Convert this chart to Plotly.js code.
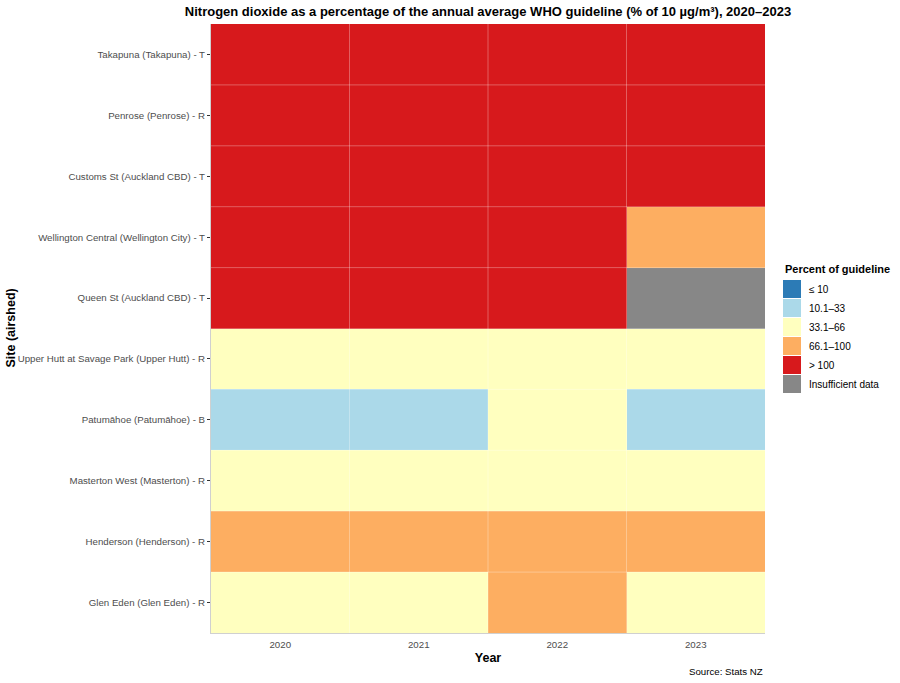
<!DOCTYPE html>
<html>
<head>
<meta charset="utf-8">
<script src="https://cdn.plot.ly/plotly-3.0.1.min.js"></script>
<style>
  html, body { margin: 0; padding: 0; background: #ffffff; }
  #chart { width: 900px; height: 683px; }
</style>
</head>
<body>
<div id="chart"></div>
<script>
// Monitoring sites, listed top to bottom
const sites = [
  "Takapuna (Takapuna) - T",
  "Penrose (Penrose) - R",
  "Customs St (Auckland CBD) - T",
  "Wellington Central (Wellington City) - T",
  "Queen St (Auckland CBD) - T",
  "Upper Hutt at Savage Park (Upper Hutt) - R",
  "Patumāhoe (Patumāhoe) - B",
  "Masterton West (Masterton) - R",
  "Henderson (Henderson) - R",
  "Glen Eden (Glen Eden) - R"
];

const years = ["2020", "2021", "2022", "2023"];

// Guideline bands and their fill colours
const bands = ["≤ 10", "10.1–33", "33.1–66", "66.1–100", "> 100", "Insufficient data"];
const bandColors = ["#2C7BB6", "#ABD9E9", "#FFFFBF", "#FDAE61", "#D7191C", "#878787"];

// Band reached by each site, one list per year (same order as sites)
const band2020 = ["> 100", "> 100", "> 100", "> 100", "> 100", "33.1–66", "10.1–33", "33.1–66", "66.1–100", "33.1–66"];
const band2021 = ["> 100", "> 100", "> 100", "> 100", "> 100", "33.1–66", "10.1–33", "33.1–66", "66.1–100", "33.1–66"];
const band2022 = ["> 100", "> 100", "> 100", "> 100", "> 100", "33.1–66", "33.1–66", "33.1–66", "66.1–100", "66.1–100"];
const band2023 = ["> 100", "> 100", "> 100", "66.1–100", "Insufficient data", "33.1–66", "10.1–33", "33.1–66", "66.1–100", "33.1–66"];

const byYear = [band2020, band2021, band2022, band2023];

// z matrix: rows = sites, columns = years, value = band index
const z = sites.map((s, i) => byYear.map(col => bands.indexOf(col[i])));
const text = sites.map((s, i) => byYear.map(col => col[i]));

// Stepped colour scale so every band index gets one flat colour
const n = bands.length;
const colorscale = [];
bandColors.forEach((c, k) => {
  colorscale.push([k / n, c]);
  colorscale.push([(k + 1) / n, c]);
});

const heat = {
  type: "heatmap",
  x: years,
  y: sites,
  z: z,
  text: text,
  hovertemplate: "%{y}<br>%{x}: %{text}<extra></extra>",
  colorscale: colorscale,
  zmin: -0.5,
  zmax: n - 0.5,
  showscale: false
};

const FONT = "Liberation Sans, Arial, sans-serif";
const plotW = 554, plotH = 609;

// Faint white tile borders drawn on top of the cells
const shapes = [];
for (let j = 1; j < years.length; j++) {
  shapes.push({
    type: "line", layer: "above", xref: "x", yref: "paper",
    x0: j - 0.5, x1: j - 0.5, y0: 0, y1: 1,
    line: { color: "rgba(255,255,255,0.3)", width: 1 }
  });
}
for (let i = 1; i < sites.length; i++) {
  shapes.push({
    type: "line", layer: "above", xref: "paper", yref: "y",
    x0: 0, x1: 1, y0: i - 0.5, y1: i - 0.5,
    line: { color: "rgba(255,255,255,0.3)", width: 1 }
  });
}

// Hand-built legend to the right of the panel
const annotations = [];
const legX = 1.0325;          // paper x of key left edge
const keyW = 18, keyH = 19;   // px
const legTopPx = 280 - 24;    // px below panel top where the keys begin
annotations.push({
  xref: "paper", yref: "paper", x: legX, y: 1 - (legTopPx - 11) / plotH,
  xanchor: "left", yanchor: "middle", showarrow: false,
  text: "<b>Percent of guideline</b>",
  font: { family: FONT, size: 11, color: "#000000" }
});
bands.forEach((b, k) => {
  const top = legTopPx + k * keyH;
  shapes.push({
    type: "rect", xref: "paper", yref: "paper",
    x0: legX, x1: legX + keyW / plotW,
    y0: 1 - (top + keyH - 1) / plotH, y1: 1 - top / plotH,
    fillcolor: bandColors[k], line: { width: 0 }
  });
  annotations.push({
    xref: "paper", yref: "paper", x: legX + (keyW + 6) / plotW, y: 1 - (top + keyH / 2) / plotH,
    xanchor: "left", yanchor: "middle", showarrow: false,
    text: b,
    font: { family: FONT, size: 10, color: "#000000" }
  });
});

// Y axis title, placed at the far left of the page
annotations.push({
  xref: "paper", yref: "paper", x: (10 - 211) / plotW, y: 0.5,
  xanchor: "center", yanchor: "middle", showarrow: false, textangle: -90,
  text: "<b>Site (airshed)</b>",
  font: { family: FONT, size: 12.5, color: "#000000" }
});

annotations.push({
  xref: "paper", yref: "paper", x: 1, y: -31 / plotH,
  xanchor: "right", yanchor: "top", showarrow: false,
  text: "Source: Stats NZ",
  font: { family: FONT, size: 9.7, color: "#000000" }
});

const layout = {
  width: 900,
  height: 683,
  margin: { l: 211, r: 135, t: 24, b: 50 },
  paper_bgcolor: "#ffffff",
  plot_bgcolor: "#ffffff",
  font: { family: FONT, color: "#4d4d4d", size: 9.7 },
  title: {
    text: "<b>Nitrogen dioxide as a percentage of the annual average WHO guideline (% of 10 µg/m³), 2020–2023</b>",
    x: 0.5, xref: "paper", xanchor: "center",
    y: 1, yref: "container", yanchor: "top", pad: { t: 7 },
    font: { size: 13, color: "#000000" }
  },
  xaxis: {
    type: "category",
    showgrid: false,
    zeroline: false,
    showline: true,
    linecolor: "#d0d0d0",
    linewidth: 1,
    ticks: "",
    ticklabelstandoff: 2,
    tickfont: { size: 9.7, color: "#4d4d4d" },
    title: { text: "<b>Year</b>", standoff: 4, font: { size: 12.5, color: "#000000" } }
  },
  yaxis: {
    type: "category",
    autorange: "reversed",
    showgrid: false,
    zeroline: false,
    showline: true,
    linecolor: "#d0d0d0",
    linewidth: 1,
    ticks: "outside",
    ticklen: 3,
    tickcolor: "#333333",
    tickwidth: 1,
    tickfont: { size: 9.7, color: "#4d4d4d" }
  },
  shapes: shapes,
  annotations: annotations,
  showlegend: false
};

Plotly.newPlot("chart", [heat], layout, { displayModeBar: false, staticPlot: true });
</script>
</body>
</html>
